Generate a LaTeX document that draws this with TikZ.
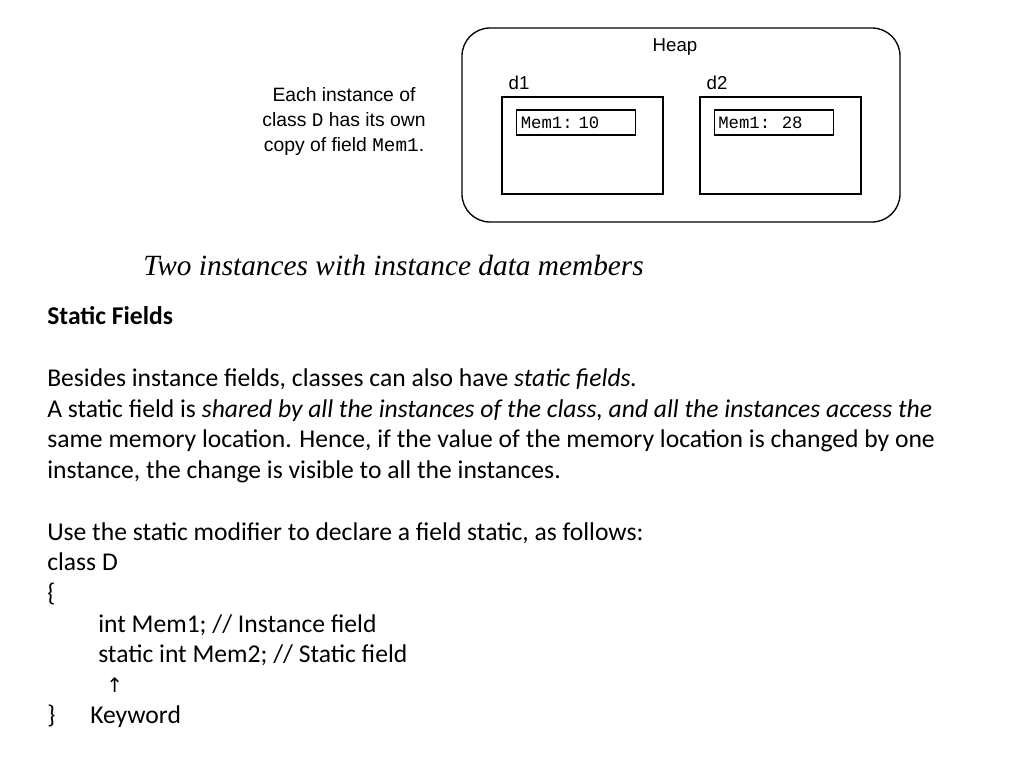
\documentclass[tikz,border=0pt]{standalone}
\usepackage{fontspec}
\setmainfont{Carlito}
\newfontfamily\diagfont{Liberation Sans}
\newfontfamily\codefont{Liberation Mono}
\newfontfamily\capfont{Liberation Serif}
\newfontfamily\symfont{DejaVu Sans}
\usetikzlibrary{positioning}
\tikzset{
  objbox/.style={draw,line width=0.9pt},
  fieldbox/.style={draw,line width=0.9pt,minimum width=89.25pt,minimum height=18.75pt,inner sep=3pt,anchor=west,align=left,text width=83pt,font=\codefont\fontsize{13}{14}\selectfont},
  diaglabel/.style={inner sep=0pt,font=\diagfont\fontsize{14}{16}\selectfont},
  bodyline/.style={anchor=base west,inner sep=0pt,font=\fontsize{19.2}{22}\selectfont}
}
\begin{document}
\begin{tikzpicture}[x=0.75pt,y=-0.75pt]
\useasboundingbox[fill=white] (0,0) rectangle (1024,768);
% heap
\draw[line width=1pt,rounded corners=21pt] (462,28) rectangle (900,222);
\node[diaglabel] (heap) at (675,47) {Heap};
\node[diaglabel] (d1lbl) at (519,83) {d1};
\node[diaglabel] (d2lbl) at (717,83) {d2};
\draw[objbox] (502,97) rectangle (663,194);
\draw[objbox] (700,97) rectangle (861,194);
\node[fieldbox] (mem1a) at (516,122.5) {Mem1:\ 10};
\node[fieldbox] (mem1b) at (713.5,122.5) {Mem1:\ \ 28};
\node[diaglabel,align=center,font=\diagfont\fontsize{14.5}{18.75}\selectfont] (note) at (344,121)
  {Each instance of\\class {\codefont D} has its own\\copy of field {\codefont Mem1}.};
\node[inner sep=0pt,anchor=west,font=\capfont\itshape\fontsize{22}{24}\selectfont] (caption) at (143,265)
  {Two instances with instance data members};
% body text
\node[bodyline] (title) at (47,324) {\bfseries Static Fields};
\node[bodyline] (l1) at (47,386) {Besides instance fields, classes can also have \textit{static fields.}};
\node[bodyline] (l2) at (47,417) {A static field is \textit{shared by all the instances of the class, and all the instances access the}};
\node[bodyline] (l3) at (47,447) {same memory location. Hence, if the value of the memory location is changed by one};
\node[bodyline] (l4) at (47,478) {instance, the change is visible to all the instances.};
\node[bodyline] (l5) at (47,540) {Use the static modifier to declare a field static, as follows:};
\node[bodyline] (l6) at (47,570) {class D};
\node[bodyline] (l7) at (47,601) {\{};
\node[bodyline] (l8) at (98,632) {int Mem1; // Instance field};
\node[bodyline] (l9) at (98,662) {static int Mem2; // Static field};
\node[bodyline,font=\symfont\fontsize{15}{18}\selectfont] (arr) at (106,692) {↑};
\node[bodyline] (l10) at (47,723) {\}};
\node[bodyline] (l11) at (90,723) {Keyword};
\end{tikzpicture}
\end{document}
